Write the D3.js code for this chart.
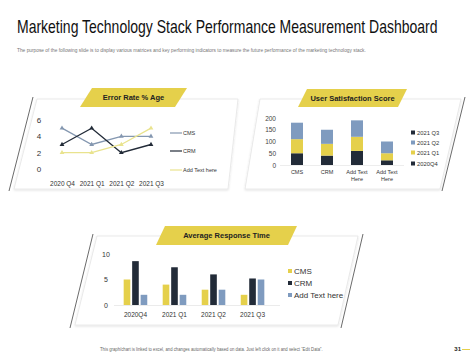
<!DOCTYPE html>
<html><head><meta charset="utf-8">
<script src="https://cdn.jsdelivr.net/npm/d3@7"></script>
<style>
html,body{margin:0;padding:0;background:#fff;}
svg{display:block;font-family:"Liberation Sans Narrow","Arial Narrow","Liberation Sans",Arial,sans-serif;}
</style></head>
<body>
<svg id="c" width="474" height="355"></svg>
<script>
// ---- data ----
const lineQuarters = ["2020 Q4","2021 Q1","2021 Q2","2021 Q3"];
const lineSeriesNames = ["CMS","CRM","Add Text here"];
const errCMS = [5,3,4,4];
const errCRM = [3,5,2,3];
const errAdd = [2,2,3,5];
const errTicks = [0,2,4,6];

const satCategories = ["CMS","CRM","Add Text|Here","Add Text|Here"];
const satKeys = ["2020Q4","2021 Q1","2021 Q2","2021 Q3"];
const sat2020Q4 = [50,40,60,20];
const sat2021Q1 = [60,50,60,30];
const sat2021Q2 = [70,60,70,50];
const sat2021Q3 = [0,0,0,0];
const satTicks = [0,50,100,150,200];

const respQuarters = ["2020Q4","2021 Q1","2021 Q2","2021 Q3"];
const respCMS = [5,4,3,2];
const respCRM = [8.6,7.4,6,5.2];
const respAdd = [2,2,3,5];
const respTicks = [0,5,10];

// ---- colours ----
const YEL = "#e5d04b", NAVY = "#222b38", BLUE = "#7f9bbf", LYEL = "#e9e38e", LBLUE = "#8497b0";

const svg = d3.select("#c");

// text fitted to a width by horizontal scaling
function fitText(x, y, width, size, fill, str){
  const g = svg.append("g");
  const t = g.append("text").attr("x",0).attr("y",0).attr("font-size",size).attr("fill",fill).text(str);
  const w = t.node().getComputedTextLength();
  g.attr("transform",`translate(${x},${y}) scale(${width/w},1)`);
  return t;
}
fitText(17,33,421,18,"#111","Marketing Technology Stack Performance Measurement Dashboard");
fitText(17,52,349,4.6,"#777","The purpose of the following slide is to display various matrices and key performing indicators to measure the future performance of the marketing technology stack.");

// panels
const defs = svg.append("defs");
const f = defs.append("filter").attr("id","sh").attr("x","-10%").attr("y","-10%").attr("width","120%").attr("height","130%");
f.append("feDropShadow").attr("dx",0).attr("dy",1).attr("stdDeviation",1.2).attr("flood-color","#000").attr("flood-opacity",0.12);

function panel(pts){
  svg.append("polygon").attr("points",pts.map(p=>p.join(",")).join(" "))
    .attr("fill","#fff").attr("stroke","#e4e4e4").attr("stroke-width",0.8).attr("filter","url(#sh)");
}
function dark(x1,y1,x2,y2){
  svg.append("line").attr("x1",x1).attr("y1",y1).attr("x2",x2).attr("y2",y2)
    .attr("stroke","#6b6b6b").attr("stroke-width",1);
}
panel([[37,99],[238,99],[228,189],[14,189]]); dark(33,97,9,191);
panel([[260,99],[461,99],[440,189],[245,189]]); dark(465,97,442,191);
panel([[97,236],[358,236],[338,325],[75,325]]); dark(93,234,70,328); dark(363,234,341,328);

function banner(x0,x1,yTop,yBot,skew,label,fs){
  const pts=[[x0+skew,yTop],[x1,yTop],[x1-skew,yBot],[x0,yBot]];
  svg.append("polygon").attr("points",pts.map(p=>p.join(",")).join(" ")).attr("fill",YEL);
  svg.append("text").attr("x",(x0+x1)/2).attr("y",(yTop+yBot)/2+2.5).attr("text-anchor","middle")
    .attr("font-size",fs).attr("font-weight","bold").attr("fill","#222").text(label);
}
banner(80,187,88,107,12,"Error Rate % Age",7.5);
banner(298,407,89,107,9,"User Satisfaction Score",7.5);
banner(156,297,226,245,9,"Average Response Time",7.5);

// ---- line chart ----
{
  const x = d3.scalePoint().domain(lineQuarters).range([62,151]);
  const y = d3.scaleLinear().domain([0,6]).range([169,120]);
  const g = svg.append("g");
  const ya = g.append("g").attr("transform","translate(39,0)").call(d3.axisLeft(y).tickValues(errTicks).tickFormat(d3.format("d")).tickSize(0).tickPadding(0));
  ya.select(".domain").remove();
  ya.selectAll("text").attr("font-size",8).attr("fill","#333").attr("font-family","Liberation Sans, Arial, sans-serif").attr("text-anchor","middle");
  const xa = g.append("g").attr("transform","translate(0,177)").call(d3.axisBottom(x).tickSize(0).tickPadding(4));
  xa.select(".domain").remove();
  xa.selectAll("text").attr("font-size",6.5).attr("fill","#333");
  const series=[{n:"CMS",v:errCMS,c:LBLUE},{n:"CRM",v:errCRM,c:NAVY},{n:"Add Text here",v:errAdd,c:LYEL}];
  const ln = d3.line().x((d,i)=>x(lineQuarters[i])).y(d=>y(d));
  const tri = d3.symbol().type(d3.symbolTriangle).size(10);
  series.forEach(s=>{
    g.append("path").attr("d",ln(s.v)).attr("fill","none").attr("stroke",s.c).attr("stroke-width",1.3);
    g.selectAll(null).data(s.v).enter().append("path").attr("d",tri)
      .attr("transform",(d,i)=>`translate(${x(lineQuarters[i])},${y(d)})`).attr("fill",s.c);
  });
  const ly=[133,151,170];
  series.forEach((s,i)=>{
    g.append("line").attr("x1",170).attr("x2",182).attr("y1",ly[i]).attr("y2",ly[i]).attr("stroke",s.c).attr("stroke-width",1.2);
    g.append("text").attr("x",183).attr("y",ly[i]+2).attr("font-size",5.5).attr("fill","#333").text(s.n);
  });
}

// ---- stacked bar ----
{
  const idx = d3.range(satCategories.length);
  const x = d3.scaleBand().domain(idx).range([282,402]).paddingInner(0.6).paddingOuter(0.3);
  const y = d3.scaleLinear().domain([0,200]).range([165,118]);
  const g = svg.append("g");
  const ya = g.append("g").attr("transform","translate(276,0)").call(d3.axisLeft(y).tickValues(satTicks).tickSize(0).tickPadding(0));
  ya.select(".domain").remove();
  ya.selectAll("text").attr("font-size",6.5).attr("fill","#444");
  g.append("line").attr("x1",280).attr("x2",404).attr("y1",165.5).attr("y2",165.5).attr("stroke","#e8e8e8").attr("stroke-width",0.8);
  const rows = idx.map(i=>({"2020Q4":sat2020Q4[i],"2021 Q1":sat2021Q1[i],"2021 Q2":sat2021Q2[i],"2021 Q3":sat2021Q3[i],i}));
  const stack = d3.stack().keys(satKeys)(rows);
  const col = {"2020Q4":NAVY,"2021 Q1":YEL,"2021 Q2":BLUE,"2021 Q3":NAVY};
  stack.forEach(layer=>{
    g.selectAll(null).data(layer).enter().append("rect")
      .attr("x",d=>x(d.data.i)).attr("width",x.bandwidth())
      .attr("y",d=>y(d[1])).attr("height",d=>y(d[0])-y(d[1])).attr("fill",col[layer.key]);
  });
  idx.forEach(i=>{
    const parts = satCategories[i].split("|");
    const t = g.append("text").attr("x",x(i)+x.bandwidth()/2).attr("y",174).attr("text-anchor","middle").attr("font-size",5.5).attr("fill","#333");
    parts.forEach((p,k)=>t.append("tspan").attr("x",x(i)+x.bandwidth()/2).attr("dy",k?6.5:0).text(p));
  });
  const legKeys = ["2021 Q3","2021 Q2","2021 Q1","2020Q4"];
  const legY = [133,143,153,164];
  legKeys.forEach((k,i)=>{
    g.append("rect").attr("x",411).attr("y",legY[i]-2.5).attr("width",4).attr("height",4).attr("fill",col[k]);
    g.append("text").attr("x",417).attr("y",legY[i]+1.5).attr("font-size",5.8).attr("fill","#333").text(k);
  });
}

// ---- grouped bar ----
{
  const x0 = d3.scaleBand().domain(respQuarters).range([114,274]).paddingInner(0.3).paddingOuter(0.2);
  const names = ["CMS","CRM","Add Text here"];
  const x1 = d3.scaleBand().domain(names).range([0,x0.bandwidth()]).padding(0.22);
  const y = d3.scaleLinear().domain([0,10]).range([305,254]);
  const g = svg.append("g");
  const ya = g.append("g").attr("transform","translate(106,0)").call(d3.axisLeft(y).tickValues(respTicks).tickSize(0).tickPadding(0));
  ya.select(".domain").remove();
  ya.selectAll("text").attr("font-size",7).attr("fill","#333").attr("text-anchor","middle");
  g.append("line").attr("x1",114).attr("x2",280).attr("y1",305.5).attr("y2",305.5).attr("stroke","#e6e6e6").attr("stroke-width",0.8);
  const vals = {"CMS":respCMS,"CRM":respCRM,"Add Text here":respAdd};
  const col = {"CMS":YEL,"CRM":NAVY,"Add Text here":BLUE};
  respQuarters.forEach((q,qi)=>{
    names.forEach(n=>{
      g.append("rect").attr("x",x0(q)+x1(n)).attr("width",x1.bandwidth())
        .attr("y",y(vals[n][qi])).attr("height",305-y(vals[n][qi])).attr("fill",col[n]);
    });
  });
  const xa = g.append("g").attr("transform","translate(0,307)").call(d3.axisBottom(x0).tickSize(0).tickPadding(5));
  xa.select(".domain").remove();
  xa.selectAll("text").attr("font-size",6.5).attr("fill","#333");
  const ly=[272,284,296];
  names.forEach((n,i)=>{
    g.append("rect").attr("x",288).attr("y",ly[i]-3).attr("width",4).attr("height",4).attr("fill",col[n]);
    g.append("text").attr("x",294).attr("y",ly[i]+2).attr("font-size",8).attr("fill","#333").text(n);
  });
}

// footer
fitText(100,351,223,5.3,"#666","This graph/chart is linked to excel, and changes automatically  based on data. Just left click on it and select \u201cEdit Data\u201d.");
svg.append("text").attr("x",461).attr("y",351).attr("font-size",6).attr("font-weight","bold").attr("fill","#222").attr("text-anchor","end").text("31");
svg.append("line").attr("x1",462).attr("x2",470).attr("y1",349.5).attr("y2",349.5).attr("stroke",YEL).attr("stroke-width",1);
</script>
</body></html>
